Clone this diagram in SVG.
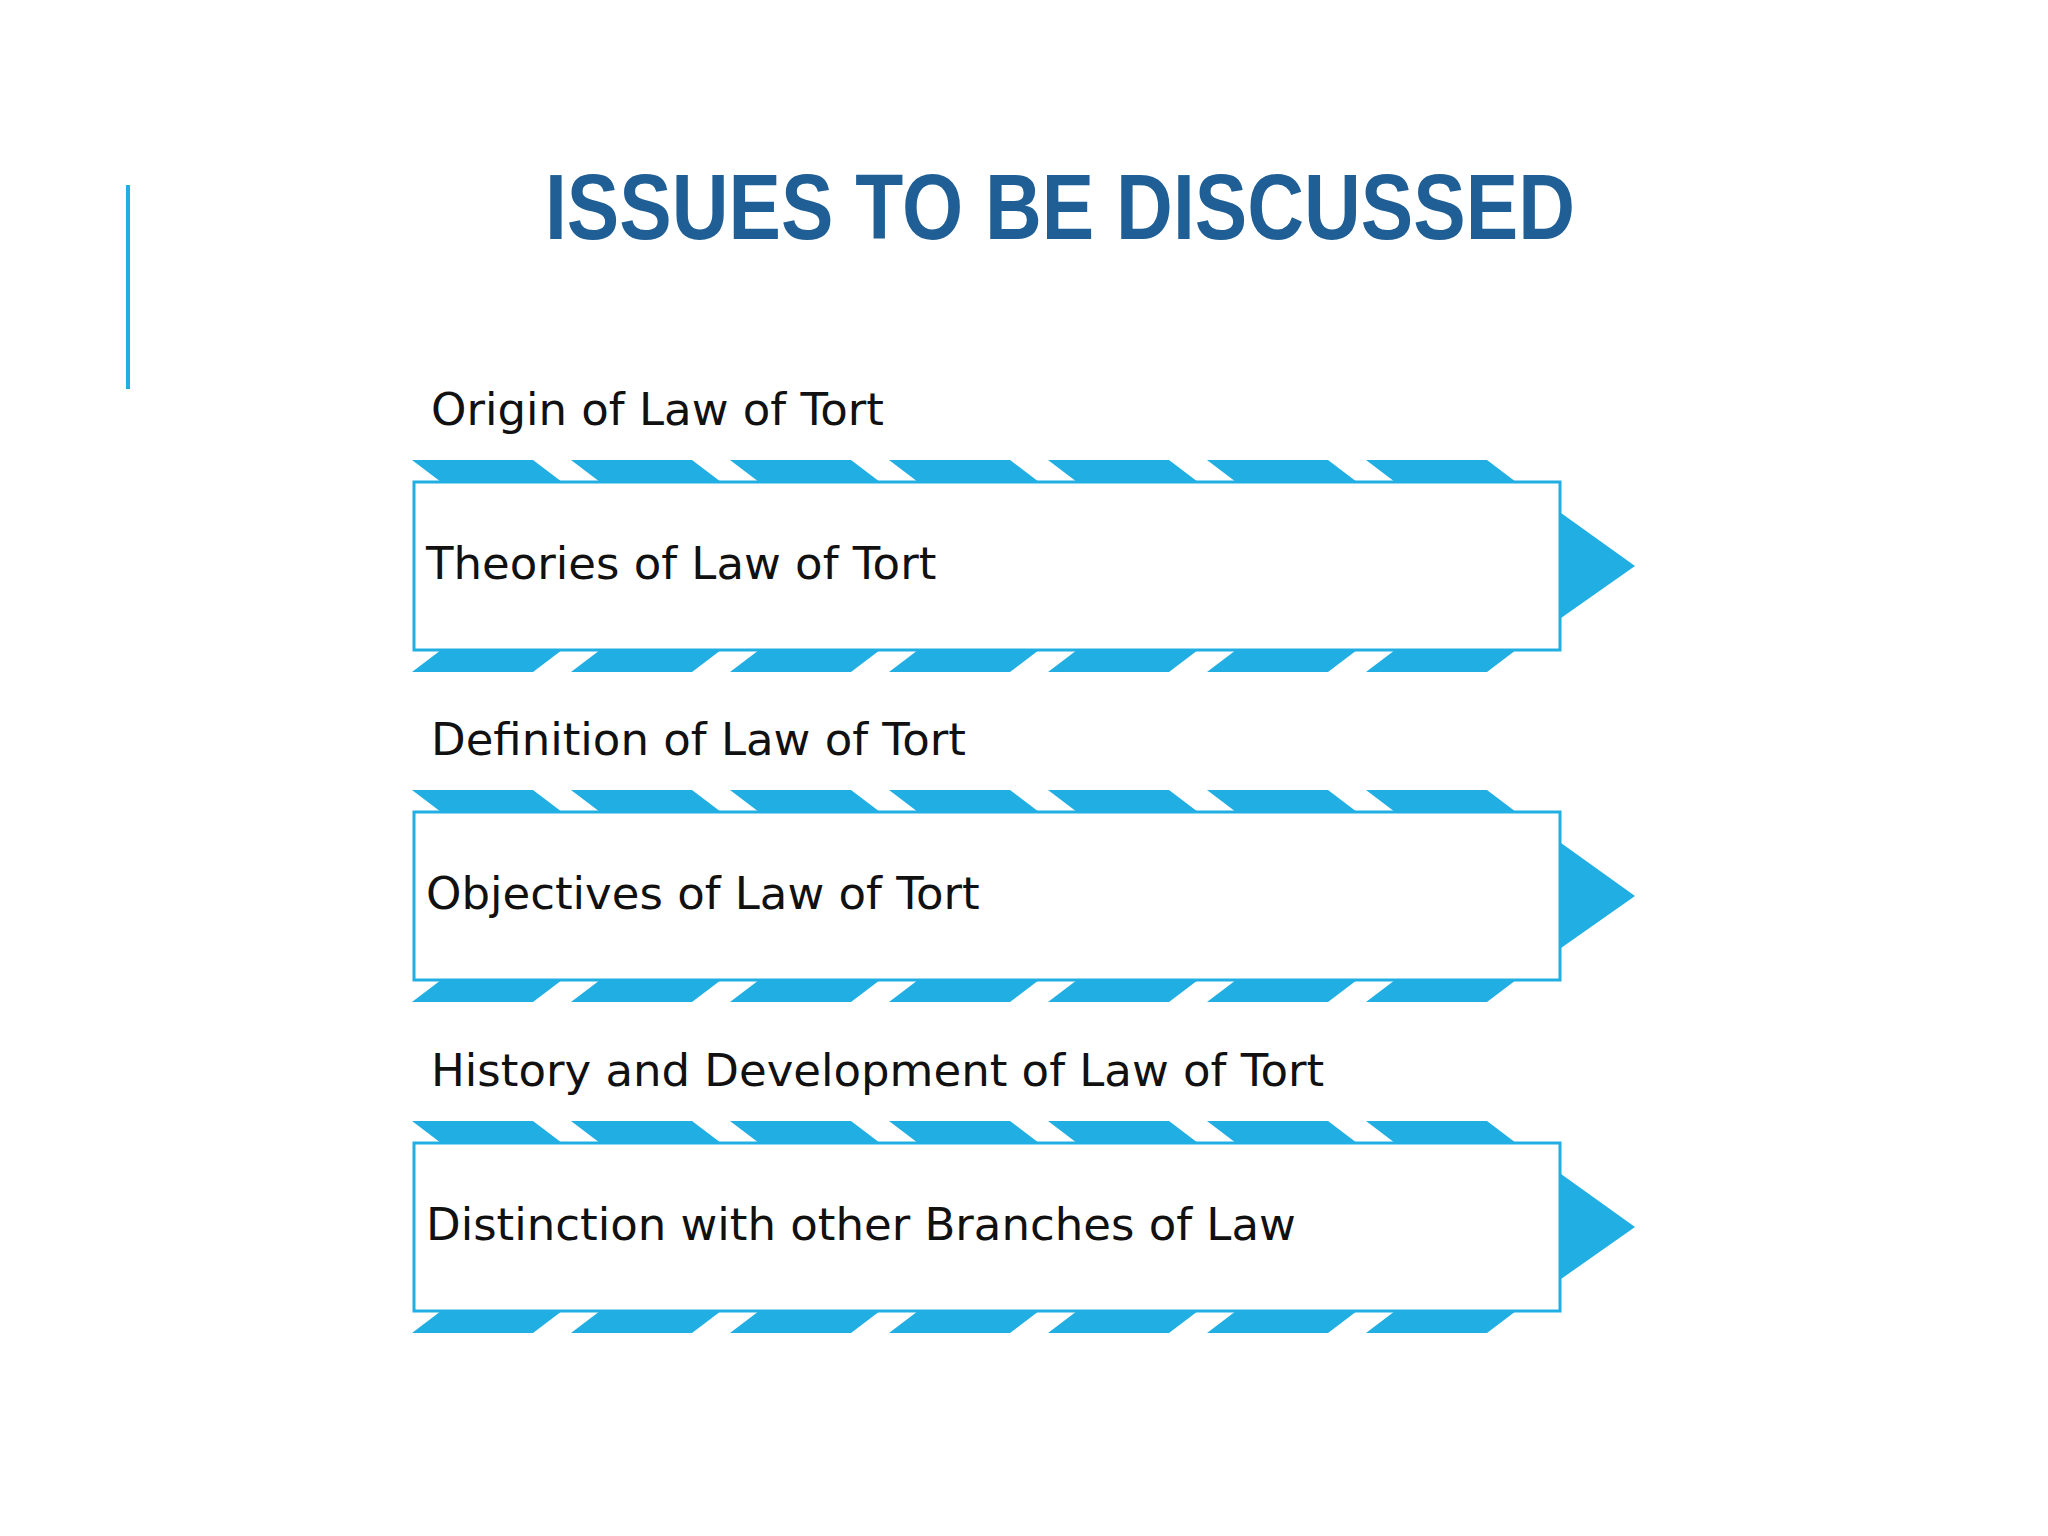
<svg xmlns="http://www.w3.org/2000/svg" width="2048" height="1536" viewBox="0 0 2048 1536">
<defs>
<style>
.s{fill:#20AEE3}
.box{fill:#fff;stroke:#20AEE3;stroke-width:3}
.t{font-family:"DejaVu Sans",sans-serif;font-size:45px;fill:#111}
</style>
<g id="band">
<path id="seg" class="s" d="M412,460 L533,460 L562,482 L441,482 Z M412,672 L533,672 L562,650 L441,650 Z"/>
<use href="#seg" x="159"/><use href="#seg" x="318"/><use href="#seg" x="477"/><use href="#seg" x="636"/><use href="#seg" x="795"/><use href="#seg" x="954"/>
<rect class="box" x="414" y="482" width="1146" height="168"/>
<path class="s" d="M1561,513 L1635,566 L1561,618 Z"/>
</g>
</defs>
<rect width="2048" height="1536" fill="#fff"/>
<line x1="128" y1="185" x2="128" y2="389" stroke="#20AEE3" stroke-width="4"/>
<text x="1060" y="239" text-anchor="middle" font-family="'Liberation Sans',sans-serif" font-weight="bold" font-size="92" fill="#1F5F95" textLength="1030" lengthAdjust="spacingAndGlyphs">ISSUES TO BE DISCUSSED</text>
<g id="node1"><use href="#band"/><text class="t" x="426" y="579">Theories of Law of Tort</text></g>
<g id="node2"><use href="#band" y="330"/><text class="t" x="426" y="909">Objectives of Law of Tort</text></g>
<g id="node3"><use href="#band" y="661"/><text class="t" x="426" y="1240">Distinction with other Branches of Law</text></g>
<g id="labels">
<text class="t" x="431" y="425">Origin of Law of Tort</text>
<text class="t" x="431" y="755">Definition of Law of Tort</text>
<text class="t" x="431" y="1086">History and Development of Law of Tort</text>
</g>
<g id="connectors"/>
</svg>
